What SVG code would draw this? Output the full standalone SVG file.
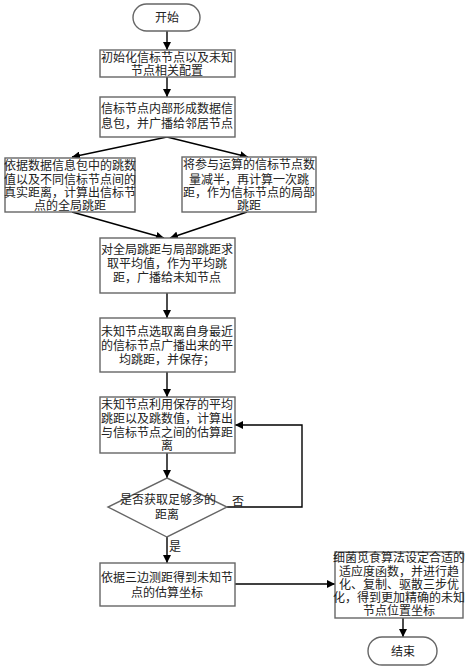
<svg xmlns="http://www.w3.org/2000/svg" width="474" height="668" viewBox="0 0 474 668">
<defs>
<marker id="ah" viewBox="0 0 10 10" refX="10" refY="5" markerWidth="8" markerHeight="8" markerUnits="userSpaceOnUse" orient="auto">
<path d="M0,0 L10,5 L0,10 z" fill="#000"/>
</marker>
<style>
.box{fill:#fff;stroke:#666;stroke-width:1.4}
.t{font-family:"Liberation Serif","Noto Sans CJK SC",serif;font-size:12px;fill:#222;text-anchor:middle}
.c{fill:none;stroke:#000;stroke-width:1.4;marker-end:url(#ah)}
</style>
</defs>
<rect width="474" height="668" fill="#fff"/>
<g id="connectors">
<line class="c" x1="167" y1="31" x2="167" y2="50"/>
<line class="c" x1="167" y1="77" x2="167" y2="97"/>
<line class="c" x1="167" y1="137" x2="72" y2="157"/>
<line class="c" x1="167" y1="137" x2="248" y2="157"/>
<line class="c" x1="72" y1="212" x2="164" y2="238"/>
<line class="c" x1="247" y1="212" x2="170" y2="238"/>
<line class="c" x1="167" y1="293" x2="167" y2="318"/>
<line class="c" x1="167" y1="372" x2="167" y2="397"/>
<line class="c" x1="167" y1="453" x2="167" y2="478"/>
<polyline class="c" points="227,507 302,507 302,425 235,425"/>
<line class="c" x1="167" y1="537" x2="167" y2="563"/>
<line class="c" x1="235" y1="584" x2="335" y2="584"/>
<line class="c" x1="403" y1="618" x2="403" y2="637"/>
<text class="t" x="238" y="506">否</text>
<text class="t" x="175" y="551">是</text>
</g>
<g id="start">
<rect class="box" x="133" y="4" width="67" height="27" rx="13.5"/>
<text class="t" x="167" y="22">开始</text>
</g>
<g id="init">
<rect class="box" x="100" y="50" width="135" height="27"/>
<text class="t" x="167" y="62">初始化信标节点以及未知</text>
<text class="t" x="167" y="75">节点相关配置</text>
</g>
<g id="broadcast">
<rect class="box" x="100" y="97" width="135" height="40"/>
<text class="t" x="167" y="113">信标节点内部形成数据信</text>
<text class="t" x="167" y="128">息包，并广播给邻居节点</text>
</g>
<g id="global">
<rect class="box" x="5" y="158" width="130" height="54"/>
<text class="t" x="70" y="170">依据数据信息包中的跳数</text>
<text class="t" x="70" y="184">值以及不同信标节点间的</text>
<text class="t" x="70" y="197">真实距离，计算出信标节</text>
<text class="t" x="70" y="210">点的全局跳距</text>
</g>
<g id="local">
<rect class="box" x="182" y="157" width="134" height="55"/>
<text class="t" x="249" y="169">将参与运算的信标节点数</text>
<text class="t" x="249" y="184">量减半，再计算一次跳</text>
<text class="t" x="249" y="197">距，作为信标节点的局部</text>
<text class="t" x="249" y="210">跳距</text>
</g>
<g id="average">
<rect class="box" x="100" y="238" width="135" height="55"/>
<text class="t" x="167" y="254">对全局跳距与局部跳距求</text>
<text class="t" x="167" y="268">取平均值，作为平均跳</text>
<text class="t" x="167" y="282">距，广播给未知节点</text>
</g>
<g id="select">
<rect class="box" x="100" y="318" width="135" height="54"/>
<text class="t" x="167" y="336">未知节点选取离自身最近</text>
<text class="t" x="167" y="350">的信标节点广播出来的平</text>
<text class="t" x="167" y="364">均跳距，并保存；</text>
</g>
<g id="estimate">
<rect class="box" x="100" y="397" width="135" height="56"/>
<text class="t" x="167" y="409">未知节点利用保存的平均</text>
<text class="t" x="167" y="423">跳距以及跳数值，计算出</text>
<text class="t" x="167" y="437">与信标节点之间的估算距</text>
<text class="t" x="167" y="450">离</text>
</g>
<g id="decision">
<polygon class="box" points="167,478 227,507 167,537 108,507"/>
<text class="t" x="168" y="504">是否获取足够多的</text>
<text class="t" x="167" y="519">距离</text>
</g>
<g id="trilateration">
<rect class="box" x="100" y="563" width="135" height="43"/>
<text class="t" x="167" y="582">依据三边测距得到未知节</text>
<text class="t" x="167" y="597">点的估算坐标</text>
</g>
<g id="bfo">
<rect class="box" x="335" y="552" width="128" height="66"/>
<text class="t" x="399" y="562">细菌觅食算法设定合适的</text>
<text class="t" x="399" y="576">适应度函数，并进行趋</text>
<text class="t" x="399" y="589">化、复制、驱散三步优</text>
<text class="t" x="399" y="602">化，得到更加精确的未知</text>
<text class="t" x="399" y="615">节点位置坐标</text>
</g>
<g id="end">
<rect class="box" x="368" y="637" width="69" height="28" rx="14"/>
<text class="t" x="403" y="656">结束</text>
</g>
</svg>
